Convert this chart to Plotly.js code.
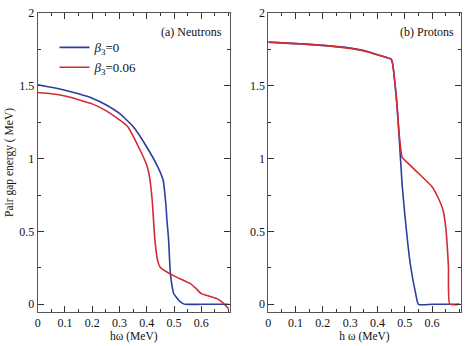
<!DOCTYPE html>
<html><head><meta charset="utf-8">
<script src="https://cdn.plot.ly/plotly-3.0.1.min.js"></script>
<style>body{margin:0;background:#fff}#c{width:474px;height:346px}</style>
</head><body><div id="c"></div>
<script>
// Neutrons
const nX0 = [0,0.05,0.1,0.15,0.2,0.25,0.3,0.35,0.4,0.44,0.46,0.47,0.474,0.48,0.486,0.49,0.497,0.5,0.51,0.517,0.53,0.54,0.6,0.7];
const nY0 = [1.507,1.49,1.47,1.445,1.415,1.37,1.31,1.22,1.08,0.945,0.853,0.69,0.58,0.45,0.23,0.16,0.085,0.07,0.045,0.028,0.008,0,0,0];
const nX6 = [0,0.05,0.1,0.15,0.2,0.25,0.3,0.33,0.37,0.4,0.41,0.42,0.43,0.44,0.45,0.48,0.5,0.53,0.56,0.58,0.6,0.63,0.657,0.68,0.7];
const nY6 = [1.454,1.445,1.43,1.405,1.376,1.33,1.266,1.22,1.08,0.956,0.876,0.716,0.44,0.3,0.252,0.215,0.195,0.168,0.142,0.11,0.073,0.055,0.039,0.01,-0.03];
// Protons
const pX0 = [0,0.1,0.2,0.3,0.35,0.4,0.45,0.455,0.47,0.48,0.49,0.5,0.52,0.54,0.55,0.6,0.7];
const pY0 = [1.80,1.79,1.778,1.76,1.743,1.713,1.683,1.656,1.40,1.13,0.83,0.62,0.28,0.073,0,0,0];
const pX6 = [0,0.1,0.2,0.3,0.35,0.4,0.45,0.455,0.47,0.48,0.49,0.5,0.55,0.6,0.62,0.64,0.65,0.66,0.665,0.7];
const pY6 = [1.80,1.79,1.778,1.757,1.74,1.713,1.683,1.656,1.40,1.16,1.01,0.99,0.9,0.807,0.74,0.647,0.53,0.257,0,0];
const xTicks = [0,0.1,0.2,0.3,0.4,0.5,0.6];
const xTickText = ['0','0.1','0.2','0.3','0.4','0.5','0.6'];
const yTicks = [0,0.5,1,1.5,2];
const yTickText = ['0','0.5','1','1.5','2'];

const blue = '#2a3f9e', red = '#d42a35';
const font = {family:'Liberation Serif, serif', size:12, color:'#111'};
const tfont = {family:'Liberation Serif, serif', size:11.5, color:'#111'};
const traces = [
  {x:nX0,y:nY0,mode:'lines',line:{color:blue,width:1.6,shape:'spline',smoothing:0.5},name:'<i>β</i><sub>3</sub>=0',xaxis:'x',yaxis:'y'},
  {x:nX6,y:nY6,mode:'lines',line:{color:red,width:1.6,shape:'spline',smoothing:0.5},name:'<i>β</i><sub>3</sub>=0.06',xaxis:'x',yaxis:'y'},
  {x:pX0,y:pY0,mode:'lines',line:{color:blue,width:1.6,shape:'spline',smoothing:0.5},showlegend:false,xaxis:'x2',yaxis:'y2'},
  {x:pX6,y:pY6,mode:'lines',line:{color:red,width:1.6,shape:'spline',smoothing:0.5},showlegend:false,xaxis:'x2',yaxis:'y2'}
];
function xa(dom, title, anchor){
  return {domain:dom, anchor:anchor, range:[0,0.705], tickmode:'array', tickvals:xTicks, ticktext:xTickText,
    ticks:'inside', ticklen:6, tickcolor:'#333', showline:true, linecolor:'#555', linewidth:1, mirror:'allticks',
    showgrid:false, zeroline:false, tickfont:font,
    minor:{dtick:0.05, tick0:0, ticks:'inside', ticklen:3, tickcolor:'#333'},
    title:{text:title, font:tfont, standoff:1}};
}
function ya(title, anchor){
  return {domain:[0,1], anchor:anchor, range:[-0.053,2], tickmode:'array', tickvals:yTicks, ticktext:yTickText,
    ticks:'inside', ticklen:6, tickcolor:'#333', showline:true, linecolor:'#555', linewidth:1, mirror:'allticks',
    showgrid:false, zeroline:false, tickfont:font,
    minor:{dtick:0.25, tick0:0, ticks:'inside', ticklen:3, tickcolor:'#333'},
    title:{text:title, font:tfont, standoff:3}};
}
const layout = {
  width:474, height:346, margin:{l:0,r:0,t:13,b:34}, paper_bgcolor:'#fff', plot_bgcolor:'#fff', font:font,
  xaxis:xa([0.0795,0.485],'hω (MeV)','y'),
  yaxis:ya('Pair gap energy ( MeV)','x'),
  xaxis2:xa([0.566,0.972],'h ω (MeV)','y2'),
  yaxis2:ya('','x2'),
  showlegend:true,
  legend:{x:0.115, y:0.935, xanchor:'left', yanchor:'top', bgcolor:'rgba(0,0,0,0)', font:{family:'Liberation Serif, serif', size:13, color:'#111'}, tracegroupgap:0, itemwidth:30},
  annotations:[
    {text:'(a) Neutrons', xref:'paper', yref:'paper', x:0.472, y:0.935, xanchor:'right', yanchor:'middle', showarrow:false, font:font},
    {text:'(b) Protons', xref:'paper', yref:'paper', x:0.962, y:0.935, xanchor:'right', yanchor:'middle', showarrow:false, font:font}
  ]
};
Plotly.newPlot('c', traces, layout, {displayModeBar:false, staticPlot:true});
</script></body></html>
